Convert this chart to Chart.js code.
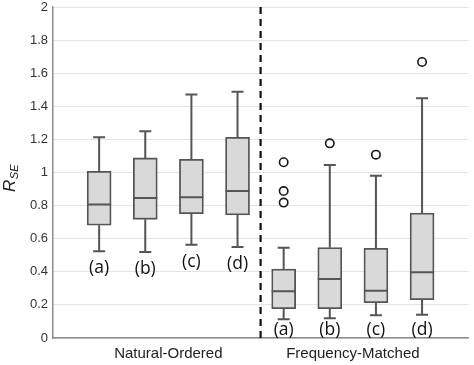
<!DOCTYPE html>
<html>
<head>
<meta charset="utf-8">
<script src="https://cdn.jsdelivr.net/npm/chart.js@4.4.1/dist/chart.umd.min.js"></script>
<style>
  html, body { margin: 0; padding: 0; background: #fff; }
  #wrap { width: 474px; height: 365px; }
</style>
</head>
<body>
<div id="wrap"><canvas id="my-chart"></canvas></div>
<script>
'use strict';

//*********** data ***********
let boxLabels = ['(a)', '(b)', '(c)', '(d)', '(a)', '(b)', '(c)', '(d)'];
let groupNames = ['Natural-Ordered', 'Frequency-Matched'];
let whiskerLow = [0.524, 0.520, 0.564, 0.550, 0.113, 0.119, 0.137, 0.141];
let q1 = [0.681, 0.717, 0.751, 0.743, 0.177, 0.177, 0.213, 0.231];
let median = [0.806, 0.846, 0.850, 0.888, 0.282, 0.357, 0.286, 0.397];
let q3 = [1.007, 1.088, 1.080, 1.213, 0.417, 0.546, 0.542, 0.755];
let whiskerHigh = [1.213, 1.249, 1.472, 1.488, 0.546, 1.045, 0.981, 1.448];
// outliers: [box index, value]
let outliers = [[4, 1.062], [4, 0.888], [4, 0.818], [5, 1.176], [6, 1.108], [7, 1.668]];
let yTicks = [0, 0.2, 0.4, 0.6, 0.8, 1, 1.2, 1.4, 1.6, 1.8, 2];

let customerChart = document.getElementById('my-chart');

// boxes are sitting at x = 1..8, the group split is between box 4 and 5
let boxX = boxLabels.map((l, i) => i + 1);
let groupX = [2.5, 6.5];
let splitX = 4.5;

// Whiskers, medians, the dashed split and the (a)..(d) labels are drawn here using the chart scales
let boxExtras = {
  id: 'boxExtras',
  afterDatasetsDraw(chart) {
    let ctx = chart.ctx;
    let xs = chart.scales.x;
    let ys = chart.scales.y;
    let area = chart.chartArea;
    let half = 12;
    ctx.save();
    ctx.strokeStyle = '#555555';
    ctx.lineWidth = 2;
    for (let i = 0; i < boxX.length; i++) {
      let px = xs.getPixelForValue(boxX[i]);
      let yLow = ys.getPixelForValue(whiskerLow[i]);
      let yQ1 = ys.getPixelForValue(q1[i]);
      let yQ3 = ys.getPixelForValue(q3[i]);
      let yHigh = ys.getPixelForValue(whiskerHigh[i]);
      let yMed = ys.getPixelForValue(median[i]);
      ctx.beginPath();
      ctx.moveTo(px, yQ3); ctx.lineTo(px, yHigh);
      ctx.moveTo(px - 6, yHigh); ctx.lineTo(px + 6, yHigh);
      ctx.moveTo(px, yQ1); ctx.lineTo(px, yLow);
      ctx.moveTo(px - 6, yLow); ctx.lineTo(px + 6, yLow);
      ctx.moveTo(px - half, yMed); ctx.lineTo(px + half, yMed);
      ctx.stroke();
    }

    // labels under each box
    ctx.fillStyle = '#111111';
    ctx.font = '17.5px "Open Sans", "Noto Sans", sans-serif';
    ctx.textAlign = 'center';
    ctx.textBaseline = 'middle';
    for (let i = 0; i < boxX.length; i++) {
      let px = xs.getPixelForValue(boxX[i]);
      let ty = Math.min(ys.getPixelForValue(whiskerLow[i]) + 17, area.bottom - 8);
      ctx.fillText(boxLabels[i], px, ty);
    }

    // dashed split line
    let sx = xs.getPixelForValue(splitX);
    ctx.strokeStyle = '#111111';
    ctx.lineWidth = 2.2;
    ctx.setLineDash([7, 5]);
    ctx.beginPath();
    ctx.moveTo(sx, area.top);
    ctx.lineTo(sx, area.bottom);
    ctx.stroke();
    ctx.restore();
  },
  afterDraw(chart) {
    // y axis title R_SE with subscript
    let ctx = chart.ctx;
    let area = chart.chartArea;
    ctx.save();
    ctx.translate(15, (area.top + area.bottom) / 2 + 6);
    ctx.rotate(-Math.PI / 2);
    ctx.fillStyle = '#222222';
    ctx.textBaseline = 'alphabetic';
    ctx.textAlign = 'left';
    ctx.font = 'italic 17px "Liberation Sans", Arial, sans-serif';
    let w = ctx.measureText('R').width;
    let sub = 'SE';
    ctx.font = 'italic 11px "Liberation Sans", Arial, sans-serif';
    let ws = ctx.measureText(sub).width;
    let start = -(w + ws) / 2;
    ctx.font = 'italic 17px "Liberation Sans", Arial, sans-serif';
    ctx.fillText('R', start, 0);
    ctx.font = 'italic 11px "Liberation Sans", Arial, sans-serif';
    ctx.fillText(sub, start + w + 0.5, 3);
    ctx.restore();
  }
};

let myChartObj = {
  type: 'bar',
  data: {
    datasets: [{
      type: 'scatter',
      label: 'outliers',
      data: outliers.map(o => ({ x: boxX[o[0]], y: o[1] })),
      pointStyle: 'circle',
      pointRadius: 4.2,
      pointBackgroundColor: '#ffffff',
      pointBorderColor: '#1a1a1a',
      pointBorderWidth: 1.6,
      order: 0
    }, {
      label: 'box',
      data: boxX.map((x, i) => ({ x: x, y: [q1[i], q3[i]] })),
      backgroundColor: '#d9d9d9',
      borderColor: '#555555',
      borderWidth: 1.8,
      borderSkipped: false,
      barThickness: 24,
      order: 1
    }]
  },
  options: {
    responsive: true,
    maintainAspectRatio: false,
    animation: false,
    layout: { padding: { top: 7, right: 2, left: 0, bottom: 0 } },
    plugins: {
      legend: { display: false },
      tooltip: { enabled: false }
    },
    scales: {
      x: {
        type: 'linear',
        min: 0,
        max: 9,
        offset: false,
        grid: { display: false, drawTicks: false },
        border: { display: true, color: '#8c8c8c', width: 1.5 },
        afterBuildTicks: (scale) => { scale.ticks = groupX.map(v => ({ value: v })); },
        afterFit: (scale) => { scale.height = 27; scale.paddingLeft = 0; scale.paddingRight = 0; },
        ticks: {
          autoSkip: false,
          maxRotation: 0,
          padding: 7,
          color: '#222222',
          font: { family: '"Liberation Sans", Arial, sans-serif', size: 15 },
          callback: (v, i) => groupNames[i]
        }
      },
      y: {
        min: 0,
        max: 2,
        afterBuildTicks: (scale) => { scale.ticks = yTicks.map(v => ({ value: v })); },
        afterFit: (scale) => { scale.width = 53; scale.paddingTop = 0; scale.paddingBottom = 0; },
        grid: { color: '#e4e4e4', lineWidth: 1, drawTicks: false },
        border: { display: true, color: '#8c8c8c', width: 1.5 },
        ticks: {
          padding: 5,
          color: '#333333',
          font: { family: '"Liberation Sans", Arial, sans-serif', size: 13 },
          callback: (v) => String(Math.round(v * 10) / 10)
        }
      }
    }
  },
  plugins: [boxExtras]
};

new Chart(customerChart, myChartObj);
</script>
</body>
</html>
